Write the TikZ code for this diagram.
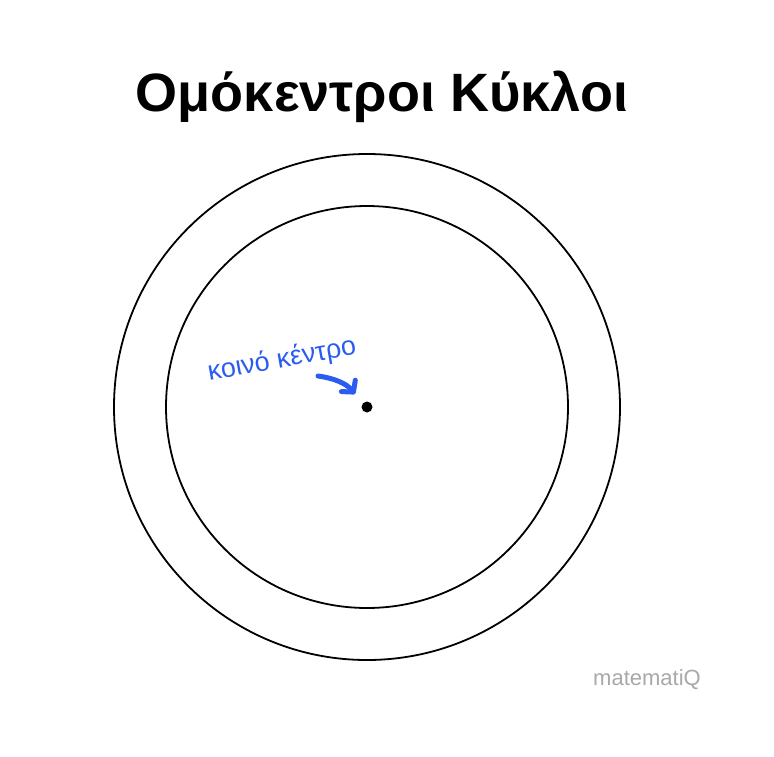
\documentclass[tikz,border=0pt]{standalone}
\usepackage{fontspec}
\setmainfont{Liberation Sans}
\newfontfamily\wmfont{Liberation Sans}
\newfontfamily\titlefont{Liberation Sans}
\usetikzlibrary{arrows.meta}
\definecolor{lblue}{HTML}{2B5CF0}
\definecolor{wmgray}{HTML}{A8A8A8}
\begin{document}
\begin{tikzpicture}[x=1pt,y=-1pt,
  ring/.style={draw=black,line width=1.8pt},
  lbl/.style={text=lblue,font=\fontsize{27}{31}\selectfont,inner sep=0pt}]
\useasboundingbox (0,0) rectangle (774,756);
\node[font=\titlefont\bfseries\fontsize{54}{60}\selectfont,inner sep=0pt] (title) at (382,97) {Ομόκεντροι Κύκλοι};
\coordinate (c) at (367,407);
\draw[ring] (c) circle[radius=253];
\draw[ring] (c) circle[radius=201];
\fill[black] (c) circle[radius=5.5];
\node[lbl,rotate=10] (lab) at (282,360) {κοινό κέντρο};
\coordinate (a1) at (318,376);
\coordinate (a2) at (355,394);
\draw[lblue,line width=5pt,line cap=round,line join=round,-{Straight Barb[length=8pt,width=18pt,line cap=round,line join=round]}] (a1) .. controls (333,378) and (346,383) .. (a2);
\node[text=wmgray,font=\wmfont\fontsize{22}{26}\selectfont,inner sep=0pt] (wm) at (647,680) {matematiQ};
\end{tikzpicture}
\end{document}
